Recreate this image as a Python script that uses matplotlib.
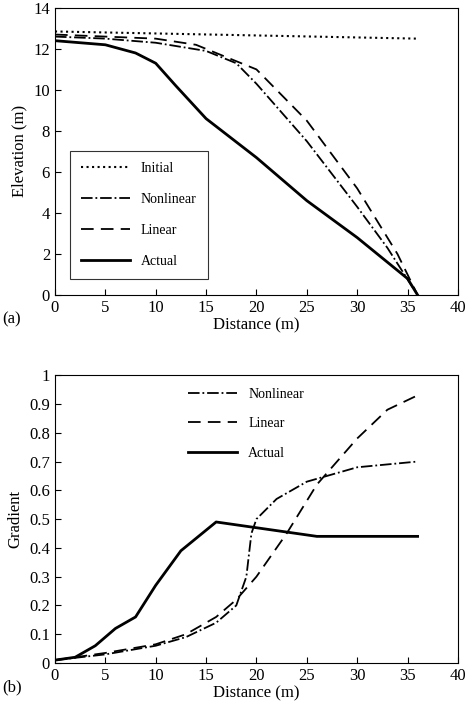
import matplotlib
matplotlib.use("Agg")
import matplotlib.pyplot as plt

plt.rcParams['font.family'] = ['Liberation Serif', 'DejaVu Serif']
plt.rcParams['font.size'] = 12

init_x = [0, 36]; init_y = [12.85, 12.5]
nl_x = [0, 5, 10, 15, 18, 20, 25, 30, 33, 36]
nl_y = [12.6, 12.5, 12.3, 11.9, 11.3, 10.3, 7.5, 4.3, 2.3, 0]
li_x = [0, 5, 10, 14, 18, 20, 25, 30, 34, 36]
li_y = [12.7, 12.6, 12.5, 12.2, 11.4, 11.0, 8.5, 5.2, 2.0, 0]
ac_x = [0, 5, 8, 10, 12, 15, 20, 25, 30, 35, 36]
ac_y = [12.4, 12.2, 11.8, 11.3, 10.2, 8.6, 6.7, 4.6, 2.8, 0.8, 0]

gnl_x = [0, 5, 10, 13, 16, 18, 19, 19.5, 20, 22, 25, 30, 36]
gnl_y = [0.01, 0.03, 0.06, 0.09, 0.14, 0.2, 0.3, 0.45, 0.5, 0.57, 0.63, 0.68, 0.70]
gli_x = [0, 5, 10, 13, 16, 18, 20, 23, 26, 30, 33, 36]
gli_y = [0.01, 0.035, 0.065, 0.1, 0.16, 0.22, 0.3, 0.45, 0.62, 0.78, 0.88, 0.93]
gac_x = [0, 2, 4, 6, 8, 10, 12.5, 16, 20, 24, 26, 36]
gac_y = [0.01, 0.02, 0.06, 0.12, 0.16, 0.27, 0.39, 0.49, 0.47, 0.45, 0.44, 0.44]

fig = plt.figure(figsize=(4.74, 7.16), dpi=100)
ax1 = fig.add_axes([0.116, 0.588, 0.85, 0.401])
ax2 = fig.add_axes([0.116, 0.074, 0.85, 0.402])

ax1.plot(init_x, init_y, color='k', ls=':', lw=1.5, label='Initial')
ax1.plot(nl_x, nl_y, color='k', ls='-.', lw=1.3, label='Nonlinear')
ax1.plot(li_x, li_y, color='k', ls=(0, (7, 4)), lw=1.3, label='Linear')
ax1.plot(ac_x, ac_y, color='k', ls='-', lw=2, label='Actual')
ax1.set_xlim(0, 40); ax1.set_ylim(0, 14)
ax1.set_xticks(range(0, 41, 5)); ax1.set_yticks(range(0, 15, 2))
ax1.set_xlabel('Distance (m)', labelpad=1); ax1.set_ylabel('Elevation (m)')
leg = ax1.legend(loc='lower left', bbox_to_anchor=(0.02, 0.03), fancybox=False,
                 edgecolor='k', fontsize=10, handlelength=3.5, labelspacing=1.3,
                 borderpad=0.8)
leg.get_frame().set_linewidth(0.8)
fig.text(0.005, 0.548, '(a)', fontsize=12)

ax2.plot(gnl_x, gnl_y, color='k', ls='-.', lw=1.3, label='Nonlinear')
ax2.plot(gli_x, gli_y, color='k', ls=(0, (7, 4)), lw=1.3, label='Linear')
ax2.plot(gac_x, gac_y, color='k', ls='-', lw=2, label='Actual')
ax2.set_xlim(0, 40); ax2.set_ylim(0, 1)
ax2.set_xticks(range(0, 41, 5))
ax2.set_yticks([0, 0.1, 0.2, 0.3, 0.4, 0.5, 0.6, 0.7, 0.8, 0.9, 1])
ax2.set_yticklabels(['0', '0.1', '0.2', '0.3', '0.4', '0.5', '0.6', '0.7', '0.8', '0.9', '1'])
ax2.set_xlabel('Distance (m)', labelpad=1); ax2.set_ylabel('Gradient')
ax2.legend(loc='upper left', bbox_to_anchor=(0.3, 1.0), frameon=False,
           fontsize=10, handlelength=3.5, labelspacing=1.2)
fig.text(0.005, 0.035, '(b)', fontsize=12)

for ax in (ax1, ax2):
    ax.tick_params(direction='in', length=4, labelsize=12)

fig.savefig('out.png', dpi=100)
